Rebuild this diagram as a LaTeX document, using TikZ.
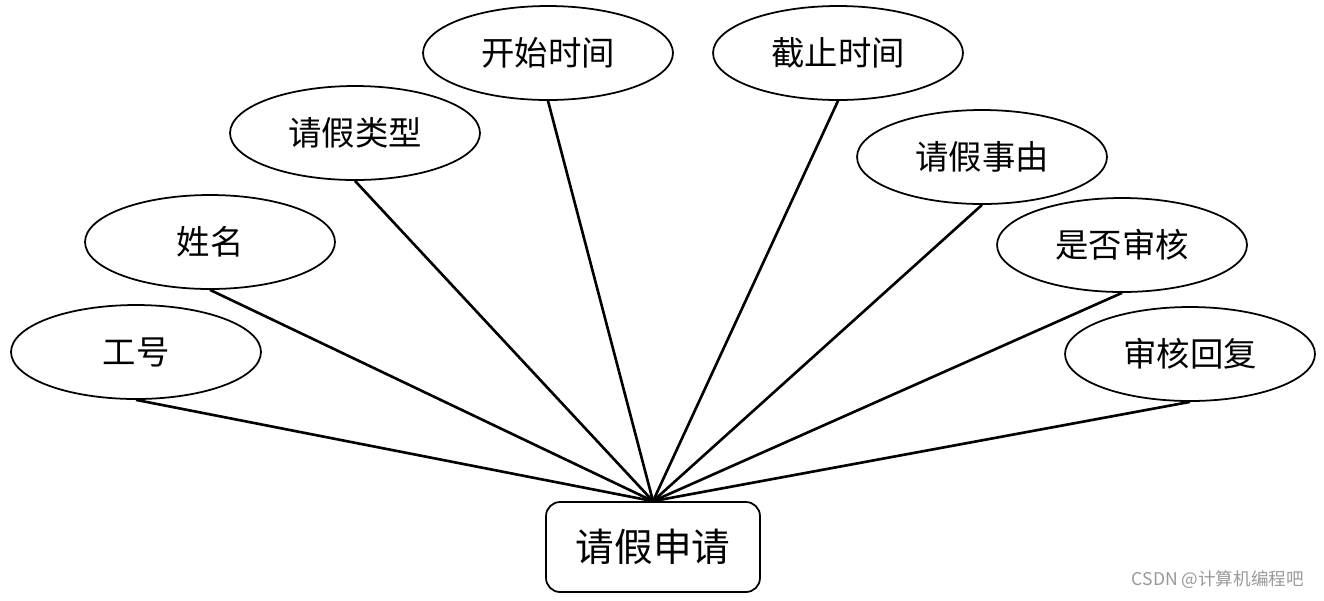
\documentclass[tikz,border=0pt]{standalone}
\usepackage{fontspec}
\newfontfamily\cjk{Noto Sans CJK SC}
\usetikzlibrary{shapes.geometric}
\begin{document}
\begin{tikzpicture}[x=0.02cm,y=-0.02cm,
  attr/.style={draw,line width=1pt,ellipse,minimum width=5cm,minimum height=1.88cm,inner sep=0pt,font=\cjk\fontsize{19}{19}\selectfont},
  ent/.style={draw,line width=1pt,rounded corners=8pt,minimum width=4.28cm,minimum height=1.8cm,font=\cjk\fontsize{22}{22}\selectfont},
  link/.style={line width=1.5pt}]
\useasboundingbox (0,0) rectangle (1324,600);
\node[ent] (e) at (653,547) {请假申请};
\node[attr] (a1) at (136,352) {工号};
\node[attr] (a2) at (210,242) {姓名};
\node[attr] (a3) at (355,133) {请假类型};
\node[attr] (a4) at (548,53) {开始时间};
\node[attr] (a5) at (838,53) {截止时间};
\node[attr] (a6) at (982,157) {请假事由};
\node[attr] (a7) at (1122,245) {是否审核};
\node[attr] (a8) at (1190,354) {审核回复};
\foreach \i in {1,...,8} \draw[link] (a\i.south) -- (e.north);
\node[anchor=east,text=gray!80,font=\cjk\fontsize{10}{10}\selectfont] (w) at (1310,580) {CSDN @计算机编程吧};
\end{tikzpicture}
\end{document}
